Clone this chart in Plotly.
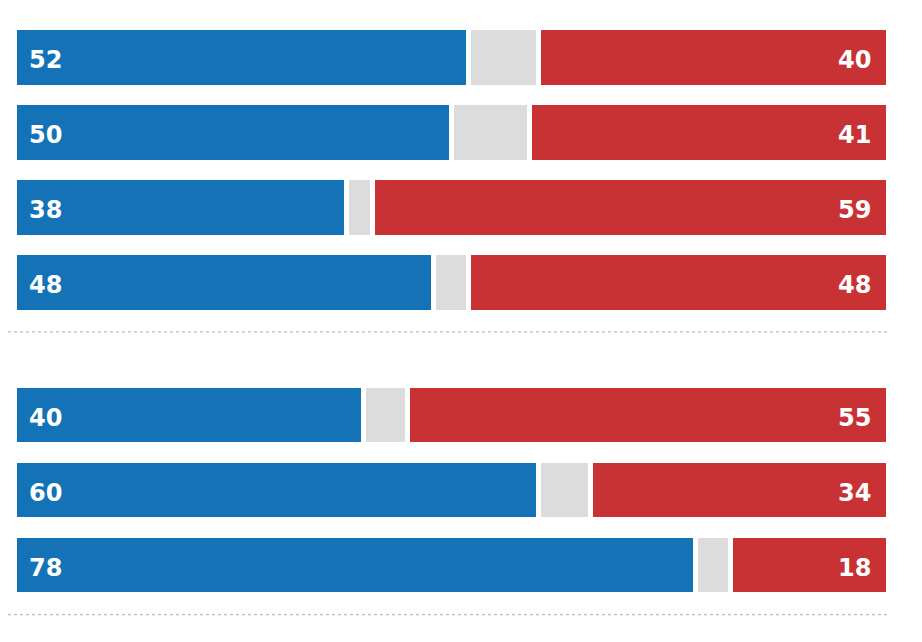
import plotly.graph_objects as go

# ---- data ----
group_sizes = [4, 3]
blue_values = [52, 50, 38, 48, 40, 60, 78]
red_values = [40, 41, 59, 48, 55, 34, 18]
gray_values = [100 - b - r for b, r in zip(blue_values, red_values)]

BLUE = "#1473b7"
RED = "#c83235"
GRAY = "#dcdcdc"

# ---- positions (layout) ----
GROUP_GAP = 0.77
positions = []
sep_positions = []
idx = 0
offset = 0.0
for gs in group_sizes:
    for _ in range(gs):
        positions.append(idx + offset)
        idx += 1
    sep_positions.append(positions[-1] + 0.653)
    offset += GROUP_GAP

fig = go.Figure()
common = dict(orientation="h", width=0.787, hoverinfo="skip",
              marker_line=dict(color="white", width=5))
fig.add_trace(go.Bar(y=positions, x=blue_values, marker_color=BLUE, **common))
fig.add_trace(go.Bar(y=positions, x=gray_values, marker_color=GRAY, **common))
fig.add_trace(go.Bar(y=positions, x=red_values, marker_color=RED, **common))

font = dict(family="DejaVu Sans, sans-serif", size=24, color="white", weight="bold")
for p, b, r in zip(positions, blue_values, red_values):
    fig.add_annotation(x=0, y=p, text=str(b), showarrow=False, xanchor="left",
                       yanchor="middle", xshift=12, yshift=-2, font=font)
    fig.add_annotation(x=100, y=p, text=str(r), showarrow=False, xanchor="right",
                       yanchor="middle", xshift=-16, yshift=-2, font=font)

for s in sep_positions:
    fig.add_shape(type="line", xref="paper", yref="y", x0=0, x1=882 / 914,
                  y0=s, y1=s, line=dict(color="#bdbdbd", width=1.3, dash="dot"))

fig.update_layout(
    width=914, height=634, barmode="stack", showlegend=False,
    margin=dict(l=0, r=0, t=0, b=0),
    plot_bgcolor="white", paper_bgcolor="white", bargap=0,
)
fig.update_xaxes(range=[-0.7437, 103.833], visible=False, fixedrange=True)
fig.update_yaxes(range=[7.7867, -0.6667], visible=False, fixedrange=True)

fig.write_html("out.html")
